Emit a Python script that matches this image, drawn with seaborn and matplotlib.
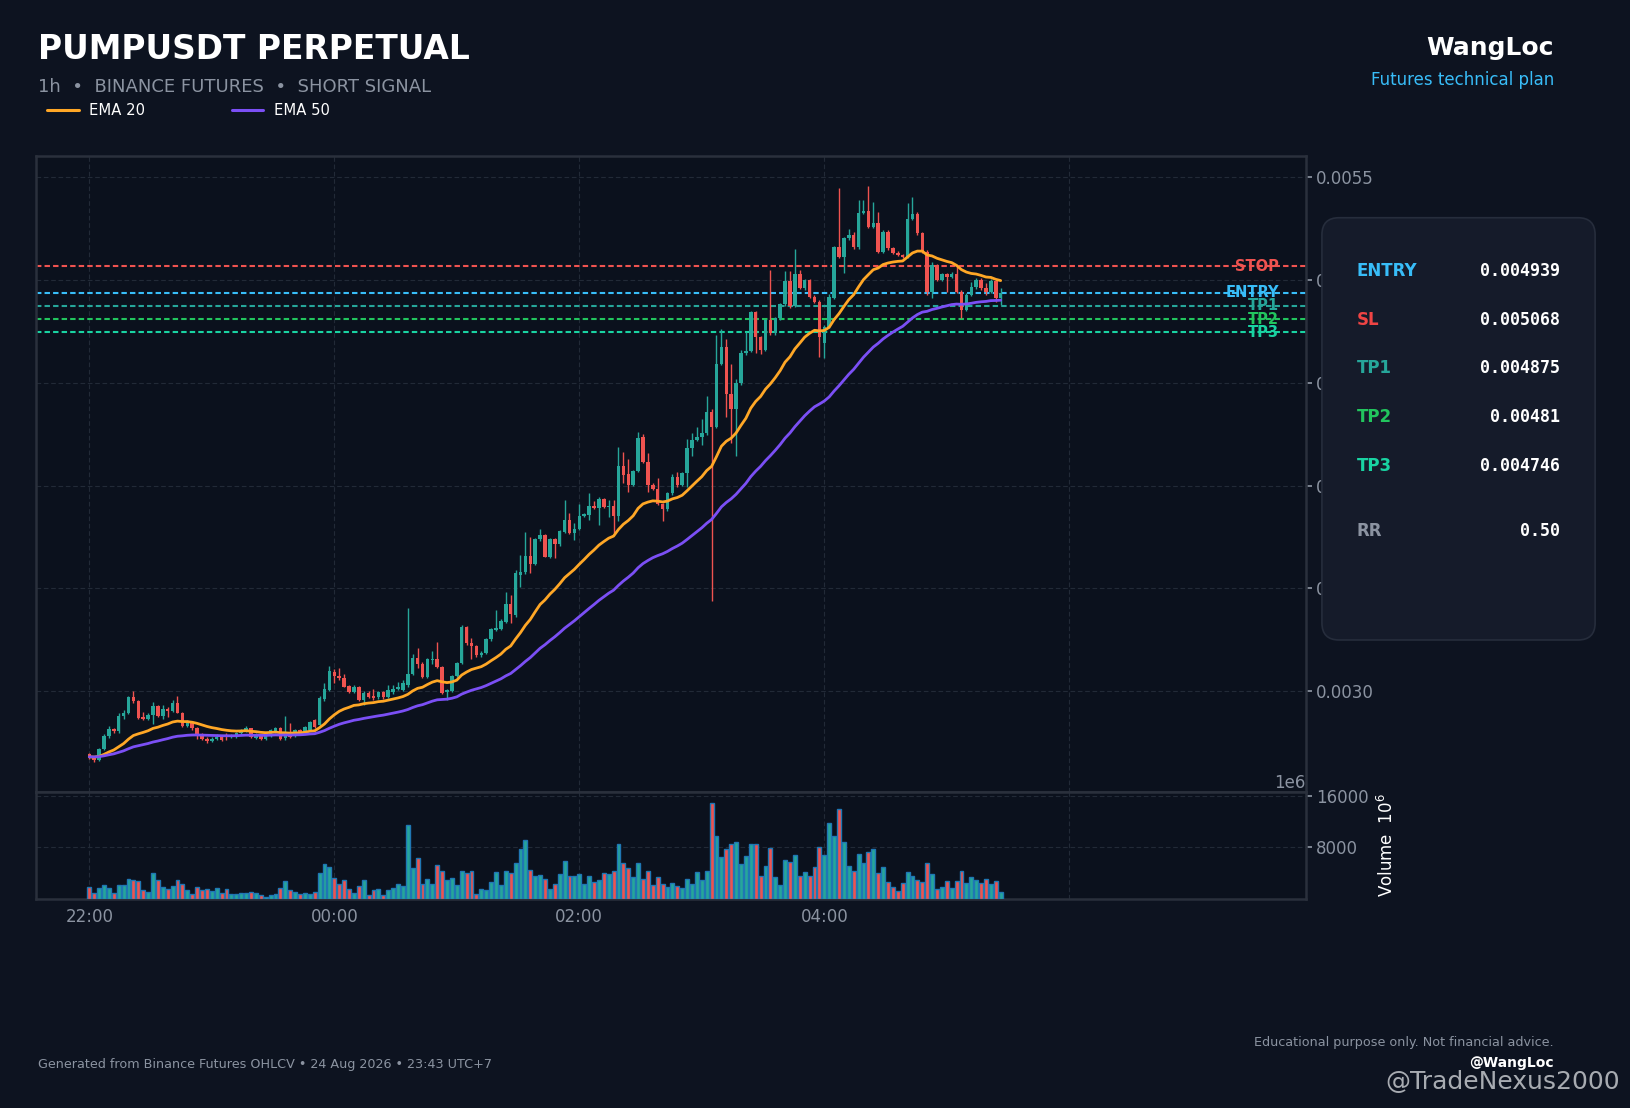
import numpy as np
import pandas as pd
import matplotlib
matplotlib.use("Agg")
import matplotlib.pyplot as plt
import seaborn as sns
from matplotlib.patches import FancyBboxPatch
from matplotlib.lines import Line2D
from matplotlib.ticker import FormatStrFormatter

# ---------------- DATA (prices in 1e-6 USDT, volume in 1e6) ----------------
OPEN = [2693, 2680, 2665, 2718, 2781, 2815, 2806, 2878, 2891, 2971,
        2952, 2872, 2866, 2883, 2927, 2880, 2914, 2905, 2942, 2895,
        2830, 2851, 2818, 2791, 2767, 2755, 2767, 2778, 2780, 2775,
        2778, 2794, 2806, 2818, 2770, 2786, 2767, 2781, 2800, 2818,
        2770, 2794, 2780, 2810, 2802, 2810, 2859, 2833, 2959, 3005,
        3093, 3073, 3063, 3024, 2997, 3020, 2956, 2992, 2975, 2969,
        2994, 2969, 2997, 3010, 3005, 3030, 3085, 3161, 3131, 3070,
        3151, 3156, 3118, 2993, 3002, 3073, 3135, 3313, 3235, 3221,
        3175, 3183, 3253, 3297, 3302, 3337, 3424, 3370, 3565, 3578,
        3657, 3620, 3738, 3759, 3654, 3738, 3714, 3772, 3832, 3767,
        3787, 3852, 3857, 3900, 3889, 3933, 3894, 3900, 3852, 4095,
        4055, 4003, 4071, 4238, 4116, 4003, 3983, 3910, 3884, 3962,
        4040, 4003, 4059, 4181, 4222, 4238, 4254, 4356, 4286, 4591,
        4673, 4446, 4373, 4497, 4643, 4655, 4843, 4724, 4660, 4806,
        4741, 4814, 4882, 4995, 4874, 5029, 4960, 4998, 4919, 4895,
        4695, 4773, 4914, 5159, 5114, 5203, 5219, 5159, 5328, 5336,
        5260, 5276, 5138, 5235, 5154, 5133, 5122, 5110, 5295, 5321,
        5227, 5138, 4943, 5073, 5000, 5028, 5016, 5028, 4943, 4854,
        4927, 4968, 5002, 4960, 4940, 4995, 4915]
HIGH = [2700, 2686, 2725, 2790, 2830, 2822, 2895, 2908, 2976, 3000,
        2958, 2896, 2895, 2945, 2932, 2932, 2922, 2956, 2976, 2900,
        2859, 2855, 2825, 2798, 2775, 2775, 2790, 2786, 2794, 2790,
        2800, 2815, 2830, 2822, 2796, 2792, 2790, 2815, 2825, 2825,
        2879, 2843, 2815, 2815, 2832, 2856, 2862, 2975, 3041, 3124,
        3106, 3110, 3081, 3030, 3028, 3025, 3002, 2998, 3008, 3000,
        3000, 3029, 3029, 3042, 3055, 3402, 3180, 3208, 3140, 3160,
        3195, 3237, 3124, 3012, 3078, 3142, 3323, 3318, 3260, 3226,
        3195, 3258, 3308, 3393, 3349, 3480, 3467, 3589, 3662, 3773,
        3750, 3745, 3787, 3765, 3745, 3745, 3785, 3930, 3868, 3820,
        3910, 3868, 3962, 3925, 3945, 3938, 3930, 3930, 4188, 4165,
        4127, 4078, 4259, 4251, 4157, 4010, 4035, 3915, 3968, 4056,
        4064, 4068, 4225, 4254, 4287, 4324, 4437, 4373, 4733, 4762,
        4713, 4592, 4518, 4660, 4749, 4850, 4850, 4730, 4810, 5049,
        4820, 4888, 5044, 5044, 5150, 5048, 5005, 5005, 4925, 4905,
        4780, 4930, 5165, 5446, 5210, 5250, 5232, 5390, 5391, 5458,
        5380, 5330, 5245, 5242, 5160, 5140, 5128, 5373, 5405, 5330,
        5232, 5145, 5090, 5080, 5035, 5035, 5040, 5068, 4950, 4935,
        4990, 5010, 5010, 4985, 5005, 5000, 4960]
LOW = [2668, 2655, 2660, 2712, 2772, 2797, 2797, 2866, 2886, 2940,
       2862, 2859, 2859, 2840, 2876, 2866, 2872, 2896, 2893, 2826,
       2825, 2812, 2768, 2760, 2748, 2750, 2762, 2758, 2762, 2770,
       2772, 2788, 2800, 2770, 2765, 2762, 2762, 2776, 2795, 2762,
       2762, 2772, 2776, 2790, 2798, 2805, 2822, 2828, 2951, 3000,
       3041, 3055, 3018, 2992, 2990, 2953, 2932, 2968, 2956, 2962,
       2962, 2965, 2988, 3004, 3000, 3020, 3080, 3111, 3064, 3065,
       3131, 3110, 2985, 2956, 2996, 3068, 3130, 3225, 3156, 3168,
       3168, 3178, 3246, 3290, 3296, 3330, 3333, 3362, 3505, 3572,
       3575, 3615, 3730, 3650, 3648, 3649, 3708, 3768, 3762, 3735,
       3782, 3845, 3832, 3884, 3806, 3890, 3848, 3767, 3829, 4010,
       3970, 3998, 4065, 4110, 3970, 3978, 3905, 3827, 3878, 3955,
       3995, 3998, 3995, 4144, 4215, 4195, 4248, 3437, 4280, 4585,
       4332, 4205, 4144, 4490, 4636, 4650, 4643, 4640, 4655, 4735,
       4735, 4808, 4876, 4865, 4868, 4955, 4952, 4912, 4890, 4627,
       4620, 4768, 4908, 5105, 5035, 5195, 5150, 5150, 5320, 5255,
       5255, 5130, 5130, 5148, 5128, 5115, 5105, 5105, 5290, 5220,
       5130, 4925, 4913, 4995, 4995, 4941, 5010, 4938, 4813, 4848,
       4920, 4955, 4950, 4925, 4935, 4895, 4880]
CLOSE = [2680, 2665, 2718, 2781, 2815, 2806, 2878, 2891, 2971, 2952,
         2869, 2866, 2883, 2927, 2880, 2914, 2905, 2942, 2895, 2830,
         2851, 2818, 2791, 2767, 2755, 2767, 2778, 2764, 2775, 2781,
         2794, 2810, 2822, 2775, 2786, 2767, 2781, 2810, 2818, 2767,
         2794, 2778, 2810, 2797, 2827, 2851, 2827, 2968, 3010, 3099,
         3073, 3063, 3021, 2997, 3020, 2956, 2992, 2973, 2964, 2994,
         2969, 3005, 3012, 3018, 3037, 3085, 3161, 3131, 3070, 3156,
         3156, 3118, 2992, 3005, 3073, 3138, 3313, 3232, 3221, 3175,
         3187, 3253, 3303, 3308, 3341, 3424, 3373, 3575, 3580, 3657,
         3620, 3740, 3759, 3654, 3738, 3714, 3780, 3832, 3767, 3787,
         3852, 3861, 3900, 3889, 3933, 3894, 3900, 3852, 4095, 4051,
         4003, 4071, 4233, 4116, 4003, 3983, 3910, 3884, 3962, 4040,
         4003, 4059, 4181, 4222, 4238, 4254, 4356, 4286, 4591, 4673,
         4446, 4373, 4497, 4643, 4655, 4843, 4724, 4660, 4806, 4741,
         4814, 4882, 4995, 4874, 5029, 4960, 4998, 4919, 4895, 4725,
         4773, 4919, 5159, 5114, 5203, 5219, 5159, 5328, 5336, 5260,
         5276, 5138, 5235, 5154, 5133, 5122, 5110, 5295, 5321, 5227,
         5138, 4943, 5073, 5000, 5028, 5016, 5028, 4943, 4854, 4927,
         4968, 5002, 4960, 4940, 4995, 4915, 4939]
VOLUME = [1830, 940, 1670, 2100, 1670, 900, 2100, 2100, 3100, 2900,
          2800, 1360, 1050, 4000, 2900, 1830, 1500, 2000, 2900, 2300,
          1360, 730, 1830, 1360, 1500, 1200, 1670, 900, 1500, 730,
          730, 900, 900, 1050, 900, 570, 260, 570, 730, 1670,
          2800, 1360, 1050, 730, 900, 730, 1050, 4000, 5400, 4900,
          3250, 2300, 2900, 1500, 900, 2000, 2900, 570, 1360, 1500,
          570, 1360, 1670, 2300, 2000, 11400, 4800, 6300, 2300, 3100,
          2300, 5300, 4300, 2900, 3250, 2100, 4300, 4000, 4300, 730,
          1500, 1360, 2600, 4200, 2100, 4300, 4000, 5600, 7800, 9200,
          4500, 3560, 3700, 3100, 1500, 2300, 3900, 5900, 3560, 3560,
          3900, 2300, 3560, 2600, 2900, 4000, 3900, 4300, 8600, 5600,
          4800, 3400, 5600, 3100, 4300, 2100, 3400, 2300, 1830, 2500,
          2000, 1670, 3100, 2300, 4200, 2900, 4300, 14800, 9800, 6500,
          7750, 8600, 8900, 5400, 6600, 8600, 8600, 3560, 5100, 7900,
          3400, 2100, 6100, 5750, 6800, 3560, 4200, 3560, 4900, 8100,
          6800, 11700, 9800, 14000, 8900, 5100, 4300, 7000, 5600, 7300,
          7800, 4000, 4900, 2600, 1830, 1200, 2500, 4200, 3560, 2900,
          2600, 5600, 3900, 1500, 1830, 2800, 1670, 2800, 4300, 2500,
          3400, 2900, 2500, 3100, 2300, 2800, 1050]

XTICK_POS = [0, 50, 100, 150, 200]
XTICK_LABELS = ["22:00", "00:00", "02:00", "04:00", ""]
PRICE_TICKS = [0.0030, 0.0035, 0.0040, 0.0045, 0.0050, 0.0055]
VOL_TICKS = [8000, 16000]

LEVEL_NAMES = ["STOP", "ENTRY", "TP1", "TP2", "TP3"]
LEVEL_VALUES = [0.005068, 0.004939, 0.004875, 0.00481, 0.004746]
PANEL_LABELS = ["ENTRY", "SL", "TP1", "TP2", "TP3", "RR"]
PANEL_VALUES = ["0.004939", "0.005068", "0.004875", "0.00481", "0.004746", "0.50"]

# ---------------- STYLE ----------------
BG = "#0d1320"
AX_BG = "#0b111d"
GRID = "#222a37"
SPINE = "#2a303c"
TICK = "#8b93a1"
TEAL = "#26a69a"
RED = "#ef5350"
ORANGE = "#ffa726"
PURPLE = "#7b4ff5"
LEVEL_COLORS = ["#ef5350", "#38bdf8", "#26a69a", "#22c55e", "#19d3a2"]
PANEL_COLORS = ["#38bdf8", "#ef4444", "#26a69a", "#22c55e", "#19d3a2", "#8b93a1"]

sns.set_theme(style="dark")
plt.rcParams.update({
    "font.family": ["DejaVu Sans"],
    "figure.facecolor": BG,
    "axes.facecolor": AX_BG,
    "axes.edgecolor": SPINE,
    "axes.linewidth": 1.8,
    "xtick.color": TICK,
    "ytick.color": TICK,
    "xtick.labelcolor": TICK,
    "ytick.labelcolor": TICK,
    "xtick.labelsize": 12,
    "ytick.labelsize": 12,
    "xtick.major.size": 4,
    "ytick.major.size": 4,
})

o = np.array(OPEN) * 1e-6
h = np.array(HIGH) * 1e-6
l = np.array(LOW) * 1e-6
c = np.array(CLOSE) * 1e-6
vol = np.array(VOLUME) * 1e6
idx = np.arange(len(c))
up = c >= o
cols = np.where(up, TEAL, RED)

df = pd.DataFrame({"i": idx, "close": c})
df["ema20"] = df["close"].ewm(span=20, adjust=False).mean()
df["ema50"] = df["close"].ewm(span=50, adjust=False).mean()

fig = plt.figure(figsize=(16.31, 11.08), dpi=100, facecolor=BG)
ax = fig.add_axes([0.0223, 0.2852, 0.7784, 0.5740])
axv = fig.add_axes([0.0223, 0.1886, 0.7784, 0.0966], sharex=ax)

for a in (ax, axv):
    a.set_facecolor(AX_BG)
    a.grid(True, color=GRID, ls=(0, (4.2, 2.4)), lw=0.8)
    a.set_axisbelow(True)
    for s in a.spines.values():
        s.set_color(SPINE)
        s.set_linewidth(1.8)

# candles
ax.vlines(idx, l, h, colors=cols, lw=1.0, zorder=3)
body = np.maximum(np.abs(c - o), 5e-6)
ax.bar(idx, body, bottom=np.minimum(o, c), width=0.72, color=cols, lw=0, zorder=4)

# EMAs
sns.lineplot(data=df, x="i", y="ema20", color=ORANGE, lw=2.0, ax=ax, zorder=5)
sns.lineplot(data=df, x="i", y="ema50", color=PURPLE, lw=2.0, ax=ax, zorder=5)

# levels
for name, val, col in zip(LEVEL_NAMES, LEVEL_VALUES, LEVEL_COLORS):
    ax.axhline(val, color=col, ls=(0, (2.6, 1.5)), lw=1.5, zorder=2)
    ax.text(0.9787, val, name, transform=ax.get_yaxis_transform(), ha="right",
            va="center", color=col, fontsize=10.5, fontweight="bold", zorder=6)

ax.set_xlim(-10.8, 248.3)
ax.set_ylim(0.0025088, 0.0056036)
ax.set_yticks(PRICE_TICKS)
ax.yaxis.set_major_formatter(FormatStrFormatter("%.4f"))
ax.yaxis.tick_right()
ax.tick_params(axis="x", bottom=False, labelbottom=False)
ax.set_xlabel("")
ax.set_ylabel("")

# volume
axv.bar(idx, vol, width=0.8, color=cols, edgecolor="#1f77b4", lw=1.0, zorder=3)
axv.set_ylim(0, vol.max() * 1.12)
axv.set_yticks(np.array(VOL_TICKS) * 1e6)
axv.yaxis.tick_right()
axv.ticklabel_format(axis="y", style="sci", scilimits=(6, 6))
axv.yaxis.set_offset_position("right")
axv.yaxis.get_offset_text().set_color(TICK)
axv.yaxis.get_offset_text().set_fontsize(12)
axv.yaxis.set_label_position("right")
axv.set_ylabel("Volume  $10^6$", color="white", fontsize=12, labelpad=6)
axv.set_xticks(XTICK_POS)
axv.set_xticklabels(XTICK_LABELS)
axv.set_xlabel("")
axv.tick_params(axis="x", pad=2.5)

# header
fig.text(0.0236, 0.9550, "PUMPUSDT PERPETUAL", fontsize=23.7, fontweight="bold",
         color="white", va="center")
fig.text(0.0236, 0.9215, "1h  •  BINANCE FUTURES  •  SHORT SIGNAL", fontsize=13,
         color=TICK, va="center")
fig.text(0.9528, 0.9570, "WangLoc", fontsize=18, fontweight="bold", color="white",
         ha="right", va="center")
fig.text(0.9528, 0.9275, "Futures technical plan", fontsize=12, color="#38bdf8",
         ha="right", va="center")

handles = [Line2D([], [], color=ORANGE, lw=2.2), Line2D([], [], color=PURPLE, lw=2.2)]
leg = fig.legend(handles, ["EMA 20", "EMA 50"], loc="center left",
                 bbox_to_anchor=(0.0288, 0.9005), ncol=2, frameon=False,
                 fontsize=10.6, borderpad=0, borderaxespad=0, handlelength=2.15,
                 handletextpad=0.7, columnspacing=5.9)
for t in leg.get_texts():
    t.set_color("white")

# info panel
px0, px1, py0, py1 = 0.8105, 0.978, 0.4224, 0.8035
panel = FancyBboxPatch((px0, py0), px1 - px0, py1 - py0,
                       boxstyle="round,pad=0,rounding_size=0.0105",
                       mutation_aspect=1631 / 1108, transform=fig.transFigure,
                       facecolor="#151b2a", edgecolor="#262d3c", lw=1.2, zorder=5)
fig.patches.append(panel)
rows_y = [0.7554, 0.7112, 0.6676, 0.6234, 0.5797, 0.5210]
for lab, val, col, yy in zip(PANEL_LABELS, PANEL_VALUES, PANEL_COLORS, rows_y):
    fig.text(0.8318, yy, lab, color=col, fontsize=12, fontweight="bold",
             va="center", ha="left", zorder=6)
    fig.text(0.9565, yy, val, color="white", fontsize=12, fontweight="bold",
             family="DejaVu Sans Mono", va="center", ha="right", zorder=6)

# footer
fig.text(0.0233, 0.0397, "Generated from Binance Futures OHLCV • 24 Aug 2026 • 23:43 UTC+7",
         fontsize=9.2, color=TICK, va="center")
fig.text(0.9527, 0.0587, "Educational purpose only. Not financial advice.",
         fontsize=9.2, color=TICK, ha="right", va="center")
fig.text(0.9527, 0.0406, "@WangLoc", fontsize=10, fontweight="bold", color="white",
         ha="right", va="center")
fig.text(0.993, 0.0235, "@TradeNexus2000", fontsize=18, color="#cfd2d6", alpha=0.8,
         ha="right", va="center")

fig.savefig("out.png", dpi=100, facecolor=BG)
